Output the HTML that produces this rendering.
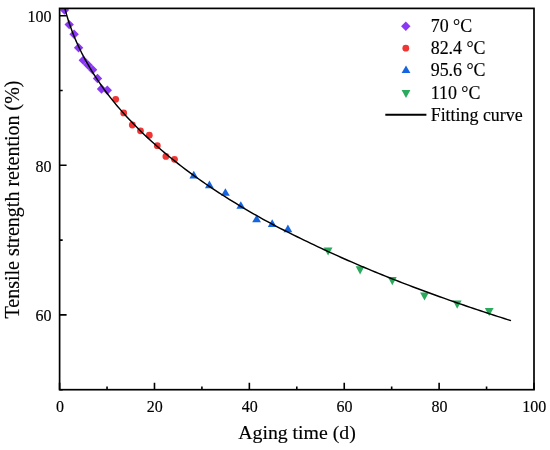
<!DOCTYPE html>
<html><head><meta charset="utf-8"><title>Aging curve</title>
<style>
html,body{margin:0;padding:0;background:#fff;}
body{width:550px;height:450px;overflow:hidden;}
svg{display:block;}
text{font-family:"Liberation Serif",serif;fill:#000;stroke:#000;stroke-width:0.15px;}
.tk{font-size:16px;}
.lb{font-size:20px;}
.lg{font-size:17.9px;}
</style></head><body>
<svg width="550" height="450" viewBox="0 0 550 450">
<rect width="550" height="450" fill="#fff"/>
<defs><clipPath id="c"><rect x="59.6" y="8.4" width="474.4" height="381.3"/></clipPath></defs>

<g clip-path="url(#c)">
<g fill="#8a38f5"><path d="M59.8 10.0L64.5 5.3L69.2 10.0L64.5 14.7Z"/><path d="M64.5 24.6L69.2 19.9L73.9 24.6L69.2 29.3Z"/><path d="M69.4 34.2L74.1 29.5L78.8 34.2L74.1 38.9Z"/><path d="M73.9 47.8L78.6 43.1L83.3 47.8L78.6 52.5Z"/><path d="M78.6 60.3L83.3 55.6L88.0 60.3L83.3 65.0Z"/><path d="M83.3 65.0L88.0 60.3L92.7 65.0L88.0 69.7Z"/><path d="M87.9 69.8L92.6 65.1L97.3 69.8L92.6 74.5Z"/><path d="M92.8 78.5L97.5 73.8L102.2 78.5L97.5 83.2Z"/><path d="M96.8 89.0L101.5 84.3L106.2 89.0L101.5 93.7Z"/><path d="M102.6 90.2L107.3 85.5L112.0 90.2L107.3 94.9Z"/></g>
<g fill="#f03535"><circle cx="115.7" cy="99.3" r="3.4"/><circle cx="123.7" cy="112.9" r="3.4"/><circle cx="132.3" cy="125.0" r="3.4"/><circle cx="140.5" cy="130.8" r="3.4"/><circle cx="149.3" cy="135.2" r="3.4"/><circle cx="157.3" cy="145.7" r="3.4"/><circle cx="165.9" cy="156.4" r="3.4"/><circle cx="174.5" cy="159.3" r="3.4"/></g>
<g fill="#1565e0"><path d="M189.4 178.5L198.2 178.5L193.8 170.8Z"/><path d="M205.0 188.2L213.8 188.2L209.4 180.5Z"/><path d="M221.0 195.8L229.8 195.8L225.4 188.2Z"/><path d="M236.4 208.8L245.2 208.8L240.8 201.2Z"/><path d="M252.2 222.3L261.0 222.3L256.6 214.7Z"/><path d="M267.8 227.0L276.6 227.0L272.2 219.3Z"/><path d="M283.5 232.2L292.3 232.2L287.9 224.5Z"/></g>
<g fill="#2aaa5c"><path d="M323.7 247.4L332.5 247.4L328.1 255.6Z"/><path d="M355.7 266.2L364.5 266.2L360.1 274.4Z"/><path d="M387.9 277.1L396.7 277.1L392.3 285.2Z"/><path d="M420.1 292.4L428.9 292.4L424.5 300.6Z"/><path d="M452.8 300.6L461.6 300.6L457.2 308.8Z"/><path d="M484.8 307.9L493.6 307.9L489.2 316.1Z"/></g>
<path d="M64.34 6.03 L65.07 8.98 L65.79 11.75 L66.51 14.37 L67.24 16.86 L67.96 19.24 L68.69 21.51 L69.41 23.71 L70.13 25.82 L70.86 27.86 L71.58 29.84 L72.30 31.76 L73.03 33.63 L73.75 35.44 L74.48 37.21 L75.20 38.94 L75.92 40.63 L76.65 42.28 L77.37 43.90 L78.09 45.48 L78.82 47.03 L79.54 48.55 L80.26 50.05 L80.99 51.52 L81.71 52.96 L82.44 54.38 L83.16 55.77 L83.88 57.15 L84.61 58.50 L85.33 59.83 L86.05 61.15 L86.78 62.44 L87.50 63.72 L88.22 64.98 L88.95 66.22 L89.67 67.45 L90.40 68.66 L91.12 69.86 L91.84 71.04 L92.57 72.21 L93.29 73.36 L94.01 74.50 L94.74 75.63 L95.46 76.75 L96.19 77.86 L96.91 78.95 L97.63 80.03 L98.36 81.10 L99.08 82.16 L99.80 83.21 L100.53 84.25 L101.25 85.28 L101.97 86.31 L102.70 87.32 L103.42 88.32 L104.15 89.31 L104.87 90.30 L105.59 91.27 L106.32 92.24 L107.04 93.20 L110.43 97.60 L113.83 101.84 L117.22 105.93 L120.62 109.90 L124.01 113.74 L127.41 117.47 L130.80 121.10 L134.20 124.62 L137.59 128.06 L140.99 131.41 L144.38 134.69 L147.77 137.89 L151.17 141.01 L154.56 144.07 L157.96 147.07 L161.35 150.00 L164.75 152.88 L168.14 155.70 L171.54 158.47 L174.93 161.19 L178.33 163.87 L181.72 166.49 L185.11 169.08 L188.51 171.62 L191.90 174.11 L195.30 176.57 L198.69 179.00 L202.09 181.38 L205.48 183.73 L208.88 186.05 L212.27 188.33 L215.67 190.59 L219.06 192.81 L222.45 195.00 L225.85 197.16 L229.24 199.30 L232.64 201.41 L236.03 203.49 L239.43 205.54 L242.82 207.57 L246.22 209.58 L249.61 211.56 L253.01 213.52 L256.40 215.46 L259.79 217.38 L263.19 219.27 L266.58 221.12 L269.98 222.95 L273.37 224.75 L276.77 226.52 L280.16 228.27 L283.56 229.99 L286.95 231.70 L290.35 233.40 L293.74 235.07 L297.13 236.74 L300.53 238.40 L303.92 240.04 L307.32 241.69 L310.71 243.33 L314.11 244.96 L317.50 246.57 L320.90 248.17 L324.29 249.76 L327.69 251.33 L331.08 252.88 L334.47 254.43 L337.87 255.96 L341.26 257.48 L344.66 258.98 L348.05 260.47 L351.45 261.96 L354.84 263.42 L358.24 264.88 L361.63 266.32 L365.03 267.76 L368.42 269.18 L371.81 270.59 L375.21 271.99 L378.60 273.38 L382.00 274.76 L385.39 276.13 L388.79 277.48 L392.18 278.83 L395.58 280.17 L398.97 281.50 L402.37 282.82 L405.76 284.13 L409.16 285.42 L412.55 286.72 L415.94 288.00 L419.34 289.27 L422.73 290.53 L426.13 291.79 L429.52 293.03 L432.92 294.27 L436.31 295.50 L439.71 296.72 L443.10 297.94 L446.50 299.14 L449.89 300.34 L453.28 301.53 L456.68 302.71 L460.07 303.89 L463.47 305.05 L466.86 306.21 L470.26 307.37 L473.65 308.51 L477.05 309.65 L480.44 310.78 L483.84 311.91 L487.23 313.02 L490.62 314.13 L494.02 315.24 L497.41 316.34 L500.81 317.43 L504.20 318.51 L507.60 319.59 L510.99 320.66" fill="none" stroke="#000" stroke-width="1.45"/>
</g>
<path d="M59.60 389.70v-7.0M107.04 389.70v-3.1M154.48 389.70v-7.0M201.92 389.70v-3.1M249.36 389.70v-7.0M296.80 389.70v-3.1M344.24 389.70v-7.0M391.68 389.70v-3.1M439.12 389.70v-7.0M486.56 389.70v-3.1M534.00 389.70v-7.0M59.60 389.70h3.1M59.60 314.90h7.0M59.60 240.10h3.1M59.60 165.30h7.0M59.60 90.50h3.1M59.60 15.70h7.0" stroke="#000" stroke-width="1.6" fill="none"/>
<rect x="59.6" y="8.4" width="474.4" height="381.3" fill="none" stroke="#000" stroke-width="1.7"/>
<text class="tk" x="59.9" y="412" text-anchor="middle">0</text>
<text class="tk" x="154.8" y="412" text-anchor="middle">20</text>
<text class="tk" x="249.7" y="412" text-anchor="middle">40</text>
<text class="tk" x="344.5" y="412" text-anchor="middle">60</text>
<text class="tk" x="439.4" y="412" text-anchor="middle">80</text>
<text class="tk" x="534.3" y="412" text-anchor="middle">100</text>
<text class="tk" x="51.5" y="321.4" text-anchor="end">60</text>
<text class="tk" x="51.5" y="171.8" text-anchor="end">80</text>
<text class="tk" x="51.5" y="22.2" text-anchor="end">100</text>
<text class="lb" style="font-size:19.8px" x="297" y="439" text-anchor="middle">Aging time (d)</text>
<text class="lb" transform="translate(18.7 199.5) rotate(-90)" text-anchor="middle">Tensile strength retention (%)</text>
<g fill="#8a38f5"><path d="M401.1 26.3L405.8 21.6L410.5 26.3L405.8 31.0Z"/></g>
<g fill="#f03535"><circle cx="405.8" cy="48.2" r="3.4"/></g>
<g fill="#1565e0"><path d="M401.6 73.0L410.4 73.0L406.0 65.4Z"/></g>
<g fill="#2aaa5c"><path d="M401.6 89.9L410.4 89.9L406.0 98.0Z"/></g>
<path d="M385.3 114.7H426.4" stroke="#000" stroke-width="2"/>
<text class="lg" x="430.7" y="32.1">70 °C</text>
<text class="lg" x="430.7" y="54.0">82.4 °C</text>
<text class="lg" x="430.7" y="76.3">95.6 °C</text>
<text class="lg" x="430.7" y="98.6">110 °C</text>
<text class="lg" x="430.7" y="120.6">Fitting curve</text>
</svg></body></html>
